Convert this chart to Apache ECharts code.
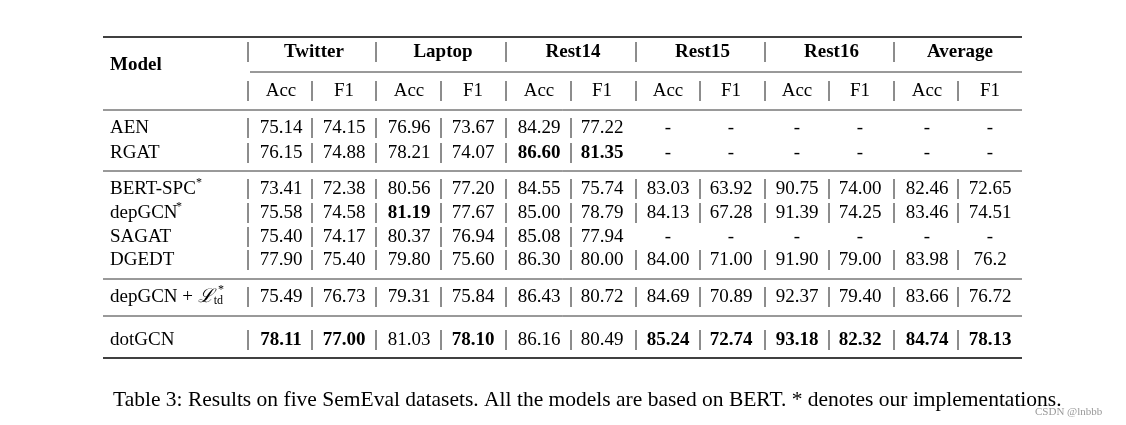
<!DOCTYPE html>
<html><head><meta charset="utf-8">
<script src="https://cdn.jsdelivr.net/npm/echarts@6/dist/echarts.min.js"></script>
<style>html,body{margin:0;background:#fff}#main{width:1126px;height:425px}</style>
</head><body><div id="main"></div>
<script>
var datasets = ['Twitter', 'Laptop', 'Rest14', 'Rest15', 'Rest16', 'Average'];
var metrics = ['Acc', 'F1'];
var models = ['AEN', 'RGAT', 'BERT-SPC*', 'depGCN*', 'SAGAT', 'DGEDT', 'depGCN + Ltd', 'dotGCN'];
var values = [
  ['75.14','74.15','76.96','73.67','84.29','77.22',null,null,null,null,null,null],
  ['76.15','74.88','78.21','74.07','86.60','81.35',null,null,null,null,null,null],
  ['73.41','72.38','80.56','77.20','84.55','75.74','83.03','63.92','90.75','74.00','82.46','72.65'],
  ['75.58','74.58','81.19','77.67','85.00','78.79','84.13','67.28','91.39','74.25','83.46','74.51'],
  ['75.40','74.17','80.37','76.94','85.08','77.94',null,null,null,null,null,null],
  ['77.90','75.40','79.80','75.60','86.30','80.00','84.00','71.00','91.90','79.00','83.98','76.2'],
  ['75.49','76.73','79.31','75.84','86.43','80.72','84.69','70.89','92.37','79.40','83.66','76.72'],
  ['78.11','77.00','81.03','78.10','86.16','80.49','85.24','72.74','93.18','82.32','84.74','78.13']
];
var boldCells = ['1-4','1-5','3-2','7-0','7-1','7-3','7-6','7-7','7-8','7-9','7-10','7-11'];
var caption = 'Table 3: Results on five SemEval datasets. All the models are based on BERT. * denotes our implementations.';

var chart = echarts.init(document.getElementById('main'));
var F = 'Liberation Serif, Times New Roman, serif';
var FS = 19;
var left = 103, right = 1022;
var colX = [281,344,409,473,539,602,668,731,797,860,927,990];
var sepX = [248,312,376,441,506,571,636,700,765,829,894,958];
var rowY = [128,153,189,213,237,260,297,340];
var g = [];
function txt(x, y, s, opt) {
  opt = opt || {};
  g.push({type:'text', x:x, y:y, style:{text:s, font:(opt.bold?'bold ':'') + (opt.size||FS) + 'px ' + F,
    fill:opt.color||'#000', textAlign:opt.align||'center', textVerticalAlign:'middle'}});
}
function rule(y, x1, x2, w) {
  g.push({type:'line', shape:{x1:x1, y1:y, x2:x2, y2:y}, style:{stroke:'#000', lineWidth:w}});
}
function bar(x, y) {
  g.push({type:'line', shape:{x1:x, y1:y - 10, x2:x, y2:y + 10}, style:{stroke:'#000', lineWidth:0.9}});
}
rule(37, left, right, 1.4);
rule(72, 250, right, 0.8);
rule(110, left, right, 0.8);
rule(171, left, right, 0.8);
rule(279, left, right, 0.8);
rule(316, left, right, 0.8);
rule(358, left, right, 1.4);
txt(110, 65, 'Model', {bold:true, align:'left'});
datasets.forEach(function (d, i) {
  txt((sepX[2*i] + (sepX[2*i+2] || right)) / 2 + 2, 52, d, {bold:true});
  bar(sepX[2*i], 52);
});
for (var c = 0; c < 12; c++) {
  txt(colX[c], 91, metrics[c % 2]);
  bar(sepX[c], 91);
}
values.forEach(function (row, r) {
  var y = rowY[r];
  var name = models[r];
  if (name === 'depGCN + Ltd') {
    g.push({type:'text', x:110, y:y, style:{text:'{a|depGCN + }{l|ℒ}{s|td}', textVerticalAlign:'middle',
      rich:{a:{font:FS+'px '+F, fill:'#000'}, l:{font:'italic '+FS+'px '+F, fill:'#000'},
        s:{font:'12px '+F, fill:'#000', padding:[8,0,0,0]}}}});
    txt(221, y - 7, '*', {size:12});
  } else if (name.slice(-1) === '*') {
    txt(110, y, name.slice(0, -1), {align:'left'});
    txt(name === 'BERT-SPC*' ? 196 : 176, y - 6, '*', {size:12, align:'left'});
  } else {
    txt(110, y, name, {align:'left'});
  }
  row.forEach(function (v, c) {
    if (v === null) { txt(colX[c], y, '-'); return; }
    txt(colX[c], y, v, {bold: boldCells.indexOf(r + '-' + c) >= 0});
    bar(sepX[c], y);
  });
});
txt(113, 400, caption, {align:'left', size:21.5});
txt(1035, 412, 'CSDN @lnbbb', {align:'left', size:11, color:'#999'});
chart.setOption({backgroundColor:'#fff', graphic:{elements:g}});
</script></body></html>
